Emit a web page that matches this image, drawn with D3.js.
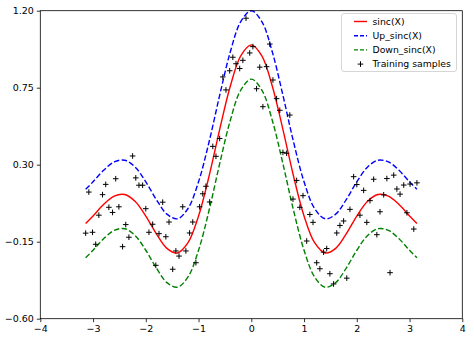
<!DOCTYPE html>
<html>
<head>
<meta charset="utf-8">
<script src="https://cdn.jsdelivr.net/npm/d3@7"></script>
<style>
html,body{margin:0;padding:0;background:#fff;}
#chart{width:474px;height:340px;}
</style>
</head>
<body>
<div id="chart"></div>
<script>
// ---------------- data ----------------
var curveX=[-3.14,-3.0,-2.8,-2.6,-2.4,-2.2,-2.0,-1.8,-1.6,-1.4,-1.2,-1.0,-0.8,-0.6,-0.4,-0.2,0,
	0.2,0.4,0.6,0.8,1.0,1.2,1.4,1.6,1.8,2.0,2.2,2.4,2.6,2.8,3.0,3.14];
var sincY=[-0.044,0,0.067,0.116,0.126,0.085,0,-0.104,-0.189,-0.216,-0.156,0,0.234,0.505,0.757,0.936,1.0,
	0.936,0.757,0.505,0.234,0,-0.156,-0.216,-0.189,-0.104,0,0.085,0.126,0.116,0.067,0,-0.044];
var upY=[0.156,0.2,0.267,0.316,0.326,0.285,0.2,0.096,0.011,-0.016,0.044,0.2,0.434,0.705,0.957,1.136,1.2,
	1.136,0.957,0.705,0.434,0.2,0.044,-0.016,0.011,0.096,0.2,0.285,0.326,0.316,0.267,0.2,0.156];
var downY=[-0.244,-0.2,-0.133,-0.084,-0.074,-0.115,-0.2,-0.304,-0.389,-0.416,-0.356,-0.2,0.034,0.305,0.557,0.736,0.8,
	0.736,0.557,0.305,0.034,-0.2,-0.356,-0.416,-0.389,-0.304,-0.2,-0.115,-0.074,-0.084,-0.133,-0.2,-0.244];

var sampleX=[-3.14,-3.08,-3.01,-2.95,-2.89,-2.82,-2.76,-2.70,-2.63,-2.57,
	-2.51,-2.44,-2.38,-2.32,-2.25,-2.19,-2.13,-2.06,-2.00,-1.94,
	-1.87,-1.81,-1.75,-1.68,-1.62,-1.56,-1.49,-1.43,-1.37,-1.30,
	-1.24,-1.17,-1.11,-1.05,-0.98,-0.92,-0.86,-0.79,-0.73,-0.67,
	-0.60,-0.54,-0.48,-0.41,-0.35,-0.29,-0.22,-0.16,-0.10,-0.03,
	0.03,0.10,0.16,0.22,0.29,0.35,0.41,0.48,0.54,0.60,
	0.67,0.73,0.79,0.86,0.92,0.98,1.05,1.11,1.17,1.24,
	1.30,1.37,1.43,1.49,1.56,1.62,1.68,1.75,1.81,1.87,
	1.94,2.00,2.06,2.13,2.19,2.25,2.32,2.38,2.44,2.51,
	2.57,2.63,2.70,2.76,2.82,2.89,2.95,3.01,3.08,3.14];
var sampleY=[-0.100,0.140,-0.095,-0.165,0.005,0.125,0.185,0.051,0.021,0.218,
	0.054,-0.179,-0.050,-0.124,0.351,0.223,0.180,0.180,0.043,-0.095,
	-0.048,-0.288,-0.103,0.081,-0.121,-0.035,-0.311,-0.204,-0.234,0.054,
	-0.204,-0.099,-0.035,-0.273,0.054,0.130,0.174,0.082,0.407,0.349,
	0.453,0.813,0.737,0.849,0.928,0.890,0.862,0.910,1.156,0.953,
	0.990,0.744,0.870,0.639,0.873,1.005,0.795,0.686,0.618,0.372,
	0.367,0.590,0.099,0.208,0.051,0.119,-0.146,0.009,-0.037,-0.273,
	-0.308,-0.211,-0.190,-0.337,-0.397,-0.099,-0.055,-0.029,-0.363,0.039,
	0.230,0.184,0.005,0.150,-0.037,0.090,0.215,-0.109,0.025,0.124,
	0.219,-0.331,0.239,0.158,0.128,0.181,0.019,0.187,-0.076,0.194];

var xTicks=[-4,-3,-2,-1,0,1,2,3,4];
var yTicks=[-0.60,-0.15,0.30,0.75,1.20];
var legendNames=['sinc(X)','Up_sinc(X)','Down_sinc(X)','Training samples'];

// ---------------- chart ----------------
var W=474,H=340;
var L=40.3,R=462.3,T=10.7,B=318.7;
var font='DejaVu Sans, sans-serif';

var oSvg=d3.select('#chart').append('svg')
	.attr('width',W).attr('height',H)
	.style('font-family',font);

var xScale=d3.scaleLinear().domain([-4,4]).range([L,R]);
var yScale=d3.scaleLinear().domain([-0.6,1.2]).range([B,T]);

// curves
var line=d3.line().curve(d3.curveCatmullRom.alpha(0.5));
function addCurve(ys,color,dash){
	var pts=curveX.map(function(x,i){return [xScale(x),yScale(ys[i])]});
	var p=oSvg.append('path')
		.attr('d',line(pts))
		.attr('fill','none')
		.attr('stroke',color)
		.attr('stroke-width',1.4);
	if(dash) p.attr('stroke-dasharray',dash);
	return p;
}
addCurve(sincY,'#ff0000');
addCurve(upY,'#0000ff','5.5,2.4');
addCurve(downY,'#008000','5.5,2.4');

// samples (+ markers)
var plus='M-2.8,0H2.8M0,-2.8V2.8';
oSvg.append('g').selectAll('path')
	.data(sampleX)
	.enter().append('path')
	.attr('transform',function(d,i){return 'translate('+xScale(d)+','+yScale(sampleY[i])+')'})
	.attr('d',plus)
	.attr('stroke','#000')
	.attr('stroke-width',1)
	.attr('fill','none');

// axes
var xAxis=d3.axisBottom(xScale).tickValues(xTicks).tickSize(3.5).tickPadding(3)
	.tickFormat(d3.format('d'));
var yAxis=d3.axisLeft(yScale).tickValues(yTicks).tickSize(3.5).tickPadding(3)
	.tickFormat(d3.format('.2f'));

var gx=oSvg.append('g').attr('transform','translate(0,'+B+')').call(xAxis);
var gy=oSvg.append('g').attr('transform','translate('+L+',0)').call(yAxis);
[gx,gy].forEach(function(g){
	g.select('.domain').remove();
	g.selectAll('line').attr('stroke','#000').attr('stroke-width',0.8);
	g.selectAll('text').attr('fill','#000').style('font-size','9.5px').style('font-family',font);
});

// frame
oSvg.append('rect')
	.attr('x',L).attr('y',T)
	.attr('width',R-L).attr('height',B-T)
	.attr('fill','none').attr('stroke','#000').attr('stroke-width',0.8);

// legend
var oGLeg=oSvg.append('g').attr('transform','translate(341.5,13.5)');
oGLeg.append('rect')
	.attr('width',115).attr('height',58)
	.attr('rx',2.5)
	.attr('fill','#fff').attr('fill-opacity',0.8)
	.attr('stroke','#cccccc').attr('stroke-width',0.8);

var legStyle=[
	{color:'#ff0000',dash:null},
	{color:'#0000ff',dash:'4,2'},
	{color:'#008000',dash:'4,2'},
	{color:'#000',dash:'marker'}
];
legendNames.forEach(function(name,i){
	var cy=8+i*14.2, s=legStyle[i];
	if(s.dash=='marker'){
		oGLeg.append('path')
			.attr('transform','translate(19,'+cy+')')
			.attr('d',plus)
			.attr('stroke','#000').attr('fill','none');
	}else{
		var l=oGLeg.append('line')
			.attr('x1',12.5).attr('x2',25.5)
			.attr('y1',cy).attr('y2',cy)
			.attr('stroke',s.color).attr('stroke-width',1.4);
		if(s.dash) l.attr('stroke-dasharray',s.dash);
	}
	oGLeg.append('text')
		.attr('x',31).attr('y',cy)
		.attr('dy','0.35em')
		.style('font-size','9.3px')
		.attr('fill','#000')
		.text(name);
});
</script>
</body>
</html>
